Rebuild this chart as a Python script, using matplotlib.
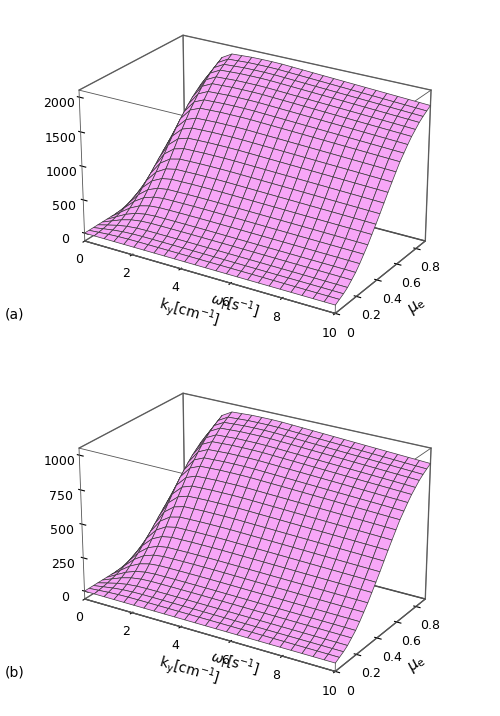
import numpy as np
import matplotlib
matplotlib.use("Agg")
from matplotlib import pyplot as plt
from matplotlib.ticker import FuncFormatter

# profiles (normalised)
k_vals = np.array([0, 0.4, 0.8, 1.2, 1.6, 2.0, 3, 4, 5, 6, 7, 8, 9, 10])
k_shape = np.array([0, 0.3, 0.6, 0.82, 0.94, 0.99, 1.0, 1.0, 0.99, 0.98, 0.97, 0.96, 0.95, 0.94])
mu_vals = np.array([0, 0.1, 0.2, 0.3, 0.4, 0.5, 0.6, 0.7, 0.8, 0.9])
mu_shape = np.array([0, 0.05, 0.14, 0.27, 0.42, 0.58, 0.73, 0.85, 0.94, 1.0])

panels = ["(a)", "(b)"]
z_max = [2000, 1000]
z_ticks = [[0, 500, 1000, 1500, 2000], [0, 250, 500, 750, 1000]]
k_ticks = [0, 2, 4, 6, 8, 10]
mu_ticks = [0, 0.2, 0.4, 0.6, 0.8]

k = np.linspace(0, 10, 25)
mu = np.linspace(0, 0.9, 25)
K, M = np.meshgrid(k, mu)
base = np.outer(np.interp(mu, mu_vals, mu_shape), np.interp(k, k_vals, k_shape))

fig = plt.figure(figsize=(5, 7.16), dpi=100)
for i in range(2):
    ax = fig.add_axes([-0.06, 0.5 - 0.5 * i, 1.12, 0.52], projection="3d")
    z0, z1 = -0.06 * z_max[i], z_max[i] * 1.05
    ax.plot_surface(K, M, base * z_max[i], color="#f7a6f7", edgecolor="#3a3a3a",
                    linewidth=0.5, shade=False, rstride=1, cstride=1)
    # full bounding box
    for x in (0, 10):
        for y in (0, 0.9):
            ax.plot([x, x], [y, y], [z0, z1], color="#555555", lw=0.6)
    for y in (0, 0.9):
        for z in (z0, z1):
            ax.plot([0, 10], [y, y], [z, z], color="#555555", lw=0.6)
    for x in (0, 10):
        for z in (z0, z1):
            ax.plot([x, x], [0, 0.9], [z, z], color="#555555", lw=0.6)
    ax.view_init(elev=24, azim=-58)
    ax.set_box_aspect((1.6, 1, 0.9))
    ax.grid(False)
    for a in (ax.xaxis, ax.yaxis, ax.zaxis):
        a.pane.fill = False
        a.pane.set_edgecolor((0, 0, 0, 0))
        a.line.set_color("#555555")
    ax.zaxis._axinfo["juggled"] = (1, 0, 2)
    ax.set_xlim(0, 10); ax.set_ylim(0, 0.9); ax.set_zlim(z0, z1)
    ax.set_xticks(k_ticks); ax.set_yticks(mu_ticks); ax.set_zticks(z_ticks[i])
    ax.yaxis.set_major_formatter(FuncFormatter(lambda v, p: "0" if v == 0 else f"{v:.1f}"))
    ax.tick_params(labelsize=9, pad=0)
    ax.set_xlabel(r"k$_\mathrm{y}$[cm$^{-1}$]", fontsize=10, labelpad=2)
    ax.set_ylabel(r"$\mu_\mathrm{e}$", fontsize=11, labelpad=-2)
    ax.set_zlabel(r"$\omega_\mathrm{r}$[s$^{-1}$]", fontsize=10, labelpad=6)
    fig.text(0.01, 0.555 - 0.5 * i, panels[i], fontsize=10)

fig.savefig("out.png", dpi=100)
